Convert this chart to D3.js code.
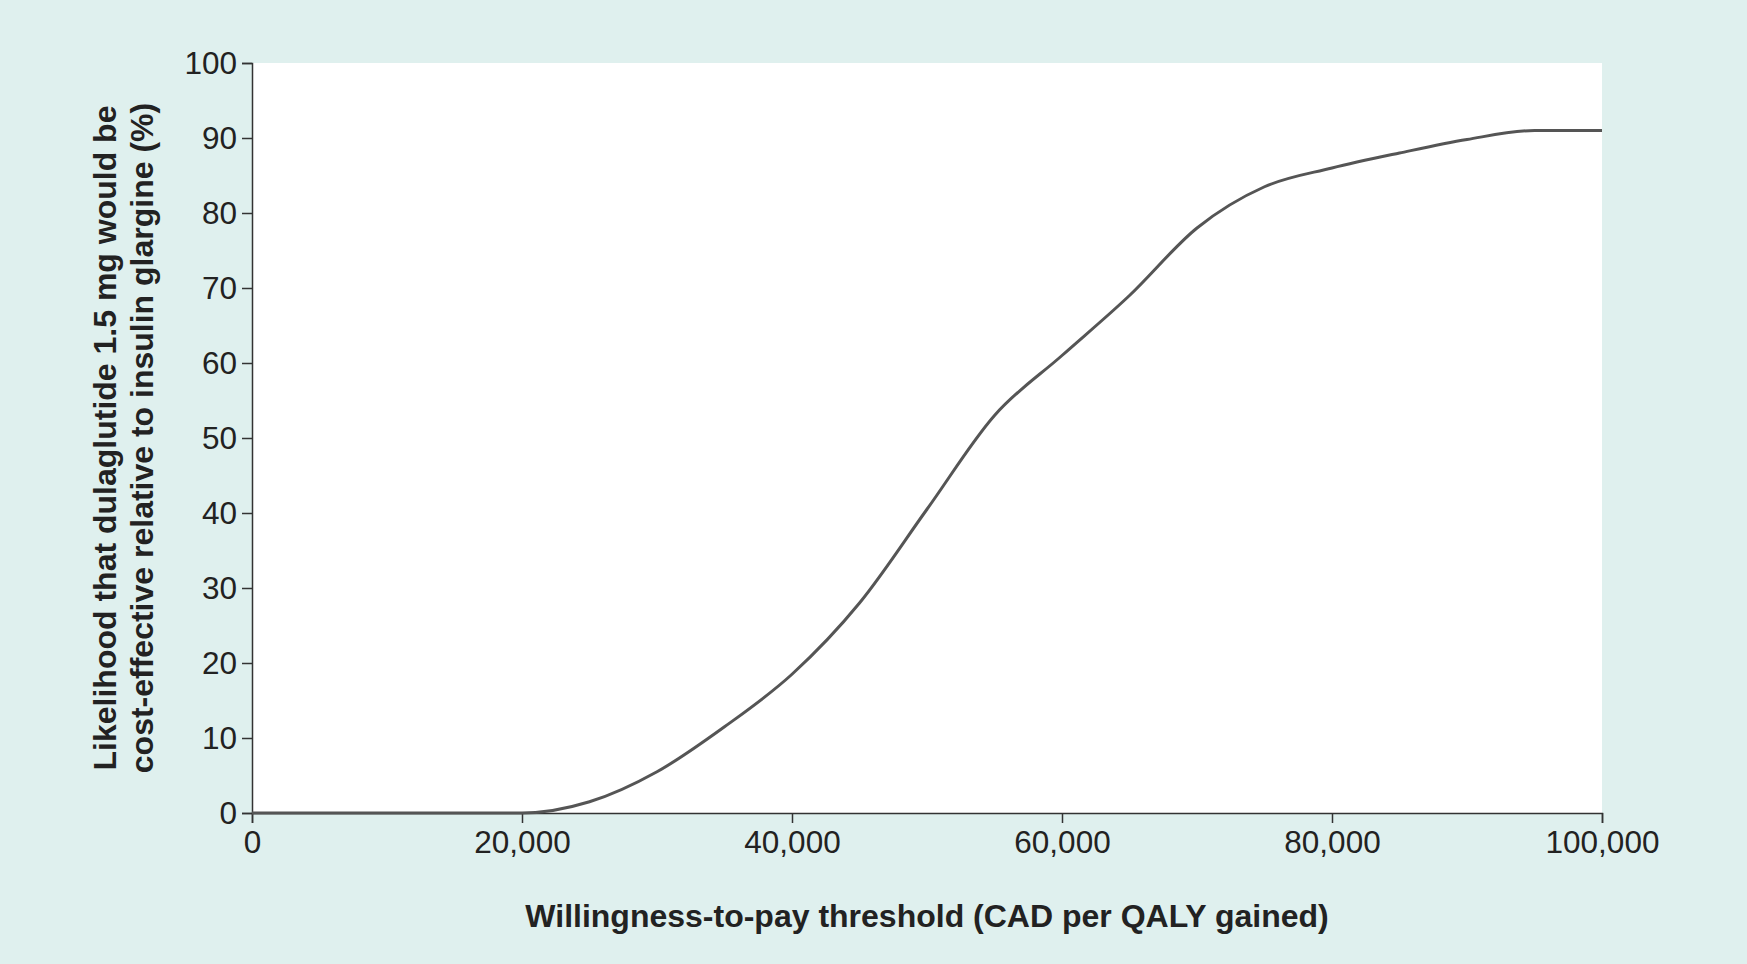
<!DOCTYPE html>
<html><head><meta charset="utf-8">
<script src="https://cdn.jsdelivr.net/npm/d3@7/dist/d3.min.js"></script>
<style>body{margin:0;background:#dff0ee}svg{display:block;font-family:"Liberation Sans",Arial,sans-serif}</style>
</head><body><svg id="c" width="1747" height="964"></svg>
<script>
const wtp = [0,20000,25000,30000,35000,40000,45000,50000,55000,60000,65000,70000,75000,80000,85000,90000,95000,100000];
const likelihood = [0,0,1.5,5.5,11.5,18.5,28,40.5,53,61,69,78,83.5,86,88,89.8,91,91];
const xTicks = [0,20000,40000,60000,80000,100000];
const yTicks = [0,10,20,30,40,50,60,70,80,90,100];

const svg = d3.select("#c");
const L=252,R=1602,T=63,B=813;
const x = d3.scaleLinear().domain([0,100000]).range([L,R]);
const y = d3.scaleLinear().domain([0,100]).range([B,T]);
svg.append("rect").attr("x",L).attr("y",T).attr("width",R-L).attr("height",B-T).attr("fill","#fff");
const xa = svg.append("g").attr("transform",`translate(0,${B})`)
  .call(d3.axisBottom(x).tickValues(xTicks).tickSize(10).tickPadding(8).tickFormat(d3.format(",")));
const ya = svg.append("g").attr("transform",`translate(${L},0)`)
  .call(d3.axisLeft(y).tickValues(yTicks).tickSize(10).tickPadding(5));
[xa,ya].forEach(a=>{a.selectAll("text").attr("font-size",31.5).attr("fill","#222");
  a.selectAll("line,path").attr("stroke","#333").attr("stroke-width",1.5);});
svg.append("path").datum(wtp.map((d,i)=>[d,likelihood[i]]))
  .attr("d",d3.line().x(d=>x(d[0])).y(d=>y(d[1])).curve(d3.curveMonotoneX))
  .attr("fill","none").attr("stroke","#555").attr("stroke-width",3);
svg.append("text").attr("x",(L+R)/2).attr("y",927).attr("text-anchor","middle")
  .attr("font-size",32).attr("font-weight","bold").attr("fill","#222")
  .text("Willingness-to-pay threshold (CAD per QALY gained)");
const yl = svg.append("text").attr("transform",`translate(0,438) rotate(-90)`)
  .attr("text-anchor","middle").attr("font-size",32).attr("font-weight","bold").attr("fill","#222");
yl.append("tspan").attr("x",0).attr("y",116).text("Likelihood that dulaglutide 1.5 mg would be");
yl.append("tspan").attr("x",0).attr("y",153).text("cost-effective relative to insulin glargine (%)");
</script></body></html>
